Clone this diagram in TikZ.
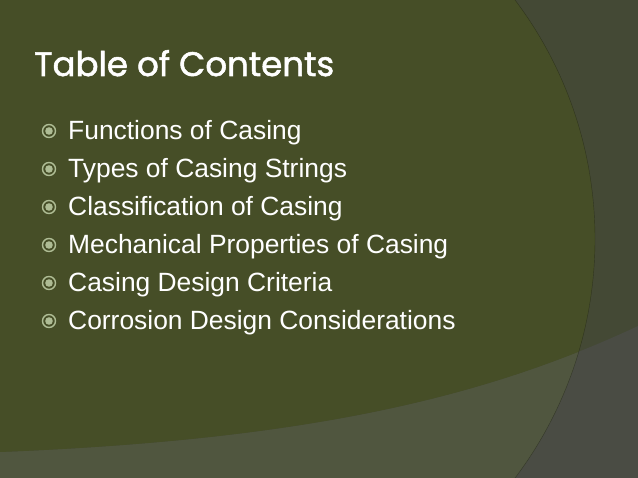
\documentclass[tikz,border=0pt]{standalone}
\usepackage{fontspec}
\setmainfont{Liberation Sans}
\newfontfamily\titlefont[FakeBold=1.6]{Poppins}
\definecolor{olive}{HTML}{464E27}
\definecolor{rtop}{HTML}{444935}
\definecolor{lbot}{HTML}{50563F}
\definecolor{rbot}{HTML}{4A4C44}
\definecolor{bul}{HTML}{AEBC94}
\tikzset{item/.style={anchor=base west,text=white,font=\fontsize{26.4}{29}\selectfont,inner sep=0pt},
 bullet/.style={circle,draw=bul,line width=1.4pt,minimum size=13pt,inner sep=0pt,path picture={\fill[bul] (path picture bounding box.center) circle (3.8pt);}}}
\begin{document}
\begin{tikzpicture}[x=1pt,y=-1pt]
\fill[rtop] (0,0) rectangle (638,478);
\useasboundingbox (0,0) rectangle (638,478);
\begin{scope}
\clip (0,452) .. controls (300,440) and (480,400) .. (638,326) -- (638,478) -- (0,478) -- cycle;
\fill[rbot] (0,0) rectangle (638,478);
\fill[lbot] (198,239) circle (397);
\end{scope}
\begin{scope}
\clip (0,0) -- (0,452) .. controls (300,440) and (480,400) .. (638,326) -- (638,0) -- cycle;
\fill[olive] (198,239) circle (397);
\end{scope}
\draw[black!60!olive,opacity=0.5] (198,239) circle (397);
\node[anchor=base west,text=white,inner sep=0pt,font=\titlefont\fontsize{34}{37}\selectfont] (title) at (34,76) {Table of Contents};
\foreach \t [count=\i] in {Functions of Casing,Types of Casing Strings,Classification of Casing,Mechanical Properties of Casing,Casing Design Criteria,Corrosion Design Considerations}{
 \node[item] (i\i) at (68,{140+(\i-1)*38}) {\t};
 \node[bullet] (b\i) at (49,{131+(\i-1)*38}) {};
}
\end{tikzpicture}
\end{document}
